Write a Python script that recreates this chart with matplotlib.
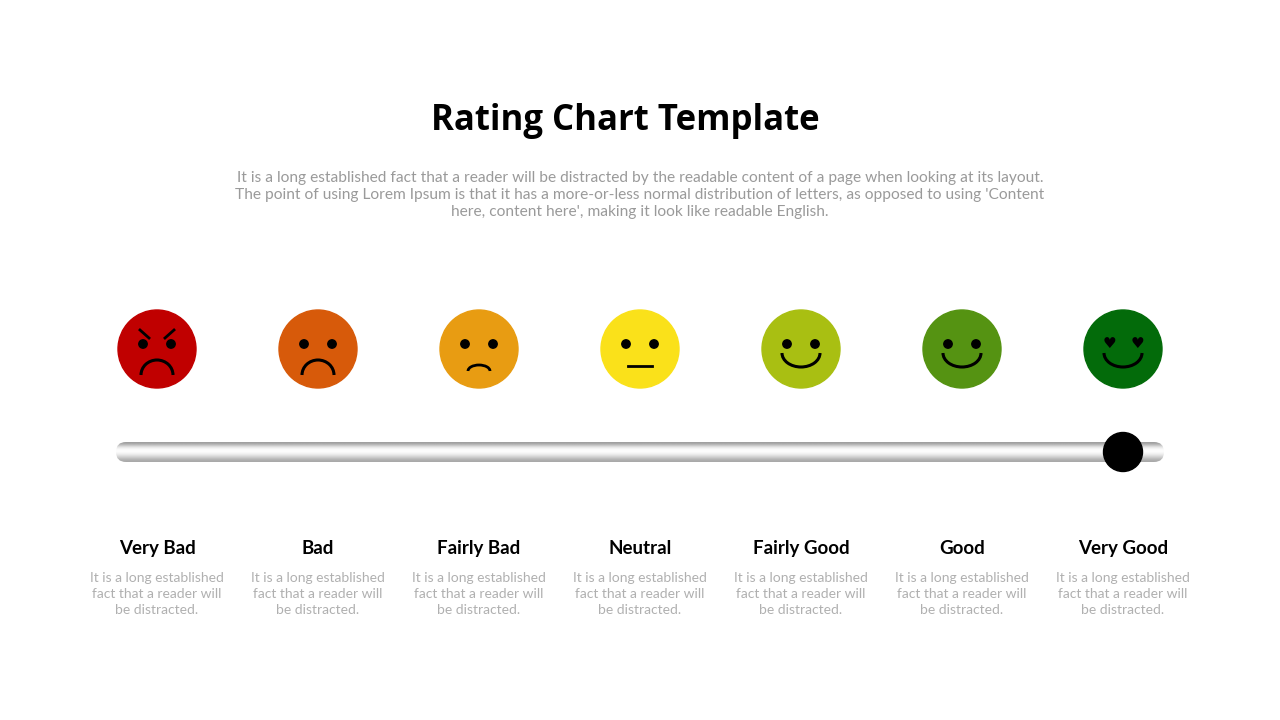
import numpy as np
import matplotlib.pyplot as plt
from matplotlib.patches import Circle, Arc, FancyBboxPatch

labels = ['Very Bad', 'Bad', 'Fairly Bad', 'Neutral', 'Fairly Good', 'Good', 'Very Good']
face_colors = ['#c00000', '#d75a0a', '#e89c12', '#fae11a', '#a9bf12', '#559312', '#036b0a']
mouths = ['angry', 'sad', 'frown', 'flat', 'smile', 'smile', 'smile']
selected = 6  # index of the chosen rating

title = 'Rating Chart Template'
intro = ("It is a long established fact that a reader will be distracted by the readable content of a page when looking at its layout.\n"
         "The point of using Lorem Ipsum is that it has a more-or-less normal distribution of letters, as opposed to using 'Content\n"
         "here, content here', making it look like readable English.")
desc = 'It is a long established\nfact that a reader will\nbe distracted.'

plt.rcParams['font.family'] = ['Lato', 'DejaVu Sans']
fig = plt.figure(figsize=(12.8, 7.2), dpi=100)
ax = fig.add_axes([0, 0, 1, 1])
ax.set_xlim(0, 1280)
ax.set_ylim(720, 0)
ax.axis('off')

ax.text(625, 121, title, ha='center', va='center', fontsize=25, fontweight='bold', color='black',
        family='Open Sans')
ax.text(640, 195, intro, ha='center', va='center', fontsize=11.2, color='#9a9a9a', linespacing=1.3)

xs = np.linspace(157, 1123, len(labels))
fy, r = 349, 39
lw = 2.2
for i, (x, lab, c, m) in enumerate(zip(xs, labels, face_colors, mouths)):
    ax.add_patch(Circle((x, fy), r, color=c, zorder=2))
    if i == 6:
        for ex in (x - 14, x + 14):
            ax.text(ex, fy - 5, '♥', ha='center', va='center', fontsize=11, color='black',
                    family='DejaVu Sans', zorder=3)
    else:
        for ex in (x - 14, x + 14):
            ax.add_patch(Circle((ex, fy - 5), 4.2, color='black', zorder=3))
    # y axis is inverted: theta 180..360 draws the upper half on screen
    if m == 'angry':
        ax.plot([x - 17, x - 8], [fy - 19, fy - 11], color='black', lw=2, zorder=3)
        ax.plot([x + 17, x + 8], [fy - 19, fy - 11], color='black', lw=2, zorder=3)
        ax.add_patch(Arc((x, fy + 26), 32, 30, theta1=180, theta2=360, color='black', lw=lw, zorder=3))
    elif m == 'sad':
        ax.add_patch(Arc((x, fy + 26), 32, 30, theta1=180, theta2=360, color='black', lw=lw, zorder=3))
    elif m == 'frown':
        ax.add_patch(Arc((x, fy + 22), 22, 12, theta1=180, theta2=360, color='black', lw=2, zorder=3))
    elif m == 'flat':
        ax.plot([x - 12, x + 12], [fy + 17, fy + 17], color='black', lw=2, zorder=3)
    else:
        ax.add_patch(Arc((x, fy + 4), 38, 28, theta1=0, theta2=180, color='black', lw=lw, zorder=3))

    ax.text(x, 554, lab, ha='center', va='baseline', fontsize=13.5, fontweight='bold', color='black')
    ax.text(x, 594, desc, ha='center', va='center', fontsize=10, color='#b0b0b0', linespacing=1.35)

# slider track with metallic gradient
sx0, sx1, sy, sh = 116, 1164, 452, 20
track = FancyBboxPatch((sx0, sy - sh / 2), sx1 - sx0, sh, boxstyle='round,pad=0,rounding_size=10',
                       facecolor='none', edgecolor='none', zorder=2)
ax.add_patch(track)
grad = np.array([0.62, 0.75, 0.9, 0.98, 1.0, 0.97, 0.9, 0.82, 0.72, 0.66])[:, None] * np.ones((1, 10))
im = ax.imshow(grad, cmap='gray', vmin=0, vmax=1, extent=(sx0, sx1, sy + sh / 2, sy - sh / 2),
               aspect='auto', interpolation='bicubic', zorder=2)
im.set_clip_path(track)
ax.set_xlim(0, 1280)
ax.set_ylim(720, 0)

ax.add_patch(Circle((xs[selected], sy), 19.5, color='black', zorder=4))

fig.savefig('out.png', dpi=100, facecolor='white')
